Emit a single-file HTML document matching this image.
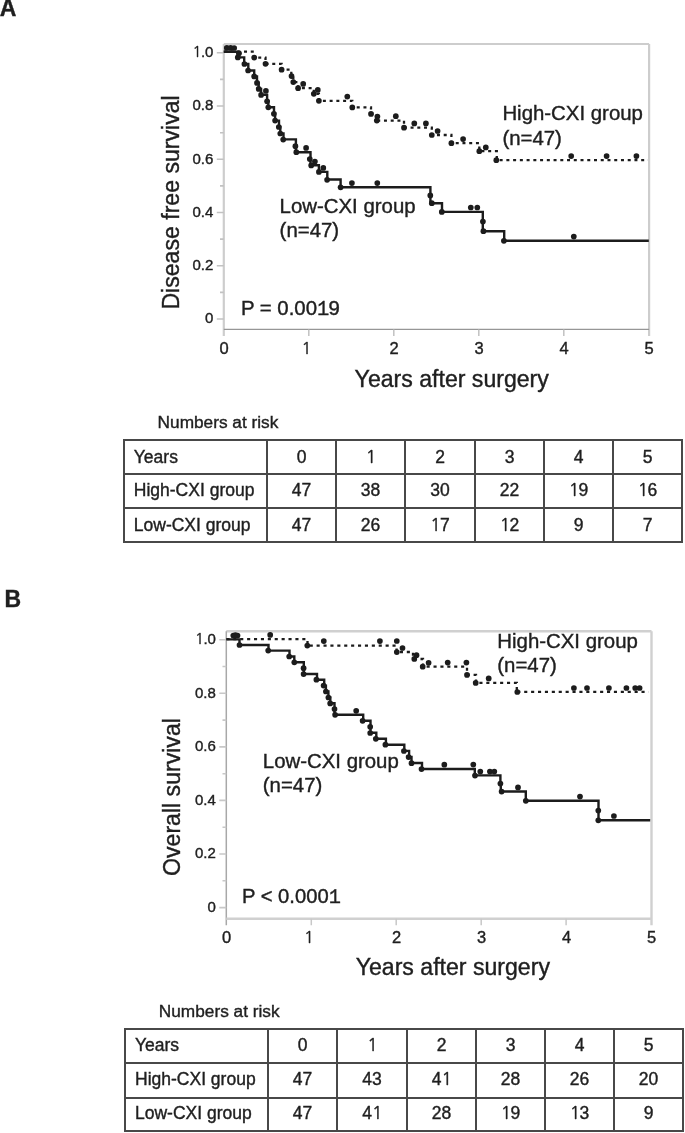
<!DOCTYPE html>
<html><head><meta charset="utf-8"><title>Kaplan-Meier survival curves</title>
<style>
html,body{margin:0;padding:0;background:#fff;}
body{width:685px;height:1133px;overflow:hidden;position:relative;}
svg{position:absolute;left:0;top:0;filter:blur(0.45px);}
text{font-family:'Liberation Sans', Arial, Helvetica, sans-serif;fill:#1f1f1f;stroke:#1f1f1f;stroke-width:0.4px;}
.o{font-family:'WenQuanYi Zen Hei','Liberation Sans',sans-serif;letter-spacing:-0.044em;}
.n{font-family:'NanumGothic','Liberation Sans',sans-serif;letter-spacing:-0.05em;}
.tables{position:absolute;left:0;top:0;width:685px;height:1133px;filter:blur(0.45px);}
table.risk{position:absolute;border-collapse:collapse;table-layout:fixed;font-family:'Liberation Sans', Arial, Helvetica, sans-serif;font-size:17.5px;color:#1f1f1f;-webkit-text-stroke:0.4px #1f1f1f;}
table.risk td,table.risk th{border:2px solid #484848;padding:0;text-align:center;vertical-align:top;line-height:20px;white-space:nowrap;font-weight:normal;}
</style></head><body>
<svg width="685" height="1133" viewBox="0 0 685 1133">
<path d="M223.8 44.0H649.1" fill="none" stroke="#cdcdcd" stroke-width="2.2"/>
<path d="M649.1 44.0V336.0" fill="none" stroke="#cdcdcd" stroke-width="2.2"/>
<path d="M223.8 44.0V336.0" fill="none" stroke="#cdcdcd" stroke-width="2.2"/>
<path d="M223.8 329.4H649.1" fill="none" stroke="#969696" stroke-width="1.3"/>
<path d="M308.8 329.4V336.0M393.8 329.4V336.0M478.8 329.4V336.0M563.8 329.4V336.0" stroke="#c2c2c2" stroke-width="1.5"/>
<path d="M216.8 319.0H223.8M220.0 292.4H223.8M216.8 265.8H223.8M220.0 239.1H223.8M216.8 212.5H223.8M220.0 185.9H223.8M216.8 159.3H223.8M220.0 132.7H223.8M216.8 106.0H223.8M220.0 79.4H223.8M216.8 52.8H223.8" stroke="#c2c2c2" stroke-width="1.6"/>
<text x="213.4" y="323.4" text-anchor="end" font-size="15">0</text>
<text x="213.4" y="270.2" text-anchor="end" font-size="15">0.2</text>
<text x="213.4" y="216.9" text-anchor="end" font-size="15">0.4</text>
<text x="213.4" y="163.7" text-anchor="end" font-size="15">0.6</text>
<text x="213.4" y="110.4" text-anchor="end" font-size="15">0.8</text>
<text x="213.4" y="57.2" text-anchor="end" font-size="15"><tspan class="n">1</tspan>.0</text>
<text x="224.2" y="354.2" text-anchor="middle" font-size="16.5">0</text>
<text x="306.2" y="354.2" text-anchor="middle" font-size="16.5"><tspan class="n">1</tspan></text>
<text x="394.2" y="354.2" text-anchor="middle" font-size="16.5">2</text>
<text x="479.2" y="354.2" text-anchor="middle" font-size="16.5">3</text>
<text x="564.2" y="354.2" text-anchor="middle" font-size="16.5">4</text>
<text x="649.2" y="354.2" text-anchor="middle" font-size="16.5">5</text>
<path d="M226.3 631.3H651.5" fill="none" stroke="#d0d0d0" stroke-width="2.4"/>
<path d="M651.5 631.3V925.3" fill="none" stroke="#d0d0d0" stroke-width="2.4"/>
<path d="M226.3 631.3V925.3" fill="none" stroke="#a8a8a8" stroke-width="1.5"/>
<path d="M226.3 918.7H651.5" fill="none" stroke="#d0d0d0" stroke-width="2.4"/>
<path d="M311.3 918.7V925.3M396.2 918.7V925.3M481.2 918.7V925.3M566.1 918.7V925.3" stroke="#c8c8c8" stroke-width="1.5"/>
<path d="M219.3 907.6H226.3M222.5 880.8H226.3M219.3 854.0H226.3M222.5 827.2H226.3M219.3 800.4H226.3M222.5 773.7H226.3M219.3 746.9H226.3M222.5 720.1H226.3M219.3 693.3H226.3M222.5 666.5H226.3M219.3 639.7H226.3" stroke="#c8c8c8" stroke-width="1.6"/>
<text x="215.9" y="912.0" text-anchor="end" font-size="15">0</text>
<text x="215.9" y="858.4" text-anchor="end" font-size="15">0.2</text>
<text x="215.9" y="804.8" text-anchor="end" font-size="15">0.4</text>
<text x="215.9" y="751.3" text-anchor="end" font-size="15">0.6</text>
<text x="215.9" y="697.7" text-anchor="end" font-size="15">0.8</text>
<text x="215.9" y="644.1" text-anchor="end" font-size="15"><tspan class="n">1</tspan>.0</text>
<text x="226.7" y="942.8" text-anchor="middle" font-size="16.5">0</text>
<text x="308.7" y="942.8" text-anchor="middle" font-size="16.5"><tspan class="n">1</tspan></text>
<text x="396.6" y="942.8" text-anchor="middle" font-size="16.5">2</text>
<text x="481.6" y="942.8" text-anchor="middle" font-size="16.5">3</text>
<text x="566.5" y="942.8" text-anchor="middle" font-size="16.5">4</text>
<text x="651.5" y="942.8" text-anchor="middle" font-size="16.5">5</text>
<path d="M223.8 51.6H254.0V57.6H265.5V63.8H281.6V69.7H291.3V76.0H293.3V82.1H298.1V88.1H313.8V93.8H318.9V100.8H352.3V107.4H371.0V113.9H377.0V120.6H404.0V127.7H431.8V135.0H451.4V143.2H479.3V151.2H496.8V160.2H496.8" fill="none" stroke="#1c1c1c" stroke-width="2.3" stroke-dasharray="3.0 3.74"/><path d="M496.8 160.2H648.0" fill="none" stroke="#1c1c1c" stroke-width="2.3" stroke-dasharray="3.0 3.74" stroke-dashoffset="3.90"/>
<path d="M223.8 51.8H237.6V57.4H244.2V64.0H248.3V70.5H254.2V76.4H257.0V82.9H258.7V88.9H261.1V94.9H267.1V101.3H268.3V107.3H274.0V113.8H275.1V120.6H279.0V127.0H280.3V133.5H283.5V139.4H295.9V146.2H295.9V152.2H310.5V159.1H310.5V165.3H318.9V171.9H327.3V179.5H340.6V187.2H430.4V195.4H430.4V203.2H442.0V211.9H482.8V221.5H482.8V231.2H504.2V240.8H648.8" fill="none" stroke="#1c1c1c" stroke-width="2.4"/>
<g fill="#1c1c1c"><circle cx="237.8" cy="57.4" r="2.85"/><circle cx="244.4" cy="64.0" r="2.85"/><circle cx="248.1" cy="70.5" r="2.85"/><circle cx="254.2" cy="76.4" r="2.85"/><circle cx="257.0" cy="82.9" r="2.85"/><circle cx="258.7" cy="88.9" r="2.85"/><circle cx="261.1" cy="94.9" r="2.85"/><circle cx="267.1" cy="101.3" r="2.85"/><circle cx="268.3" cy="107.3" r="2.85"/><circle cx="273.9" cy="113.8" r="2.85"/><circle cx="275.1" cy="120.6" r="2.85"/><circle cx="278.8" cy="127.0" r="2.85"/><circle cx="280.3" cy="133.5" r="2.85"/><circle cx="283.2" cy="139.6" r="2.85"/><circle cx="295.4" cy="146.2" r="2.85"/><circle cx="296.3" cy="152.2" r="2.85"/><circle cx="309.8" cy="159.1" r="2.85"/><circle cx="311.2" cy="165.4" r="2.85"/><circle cx="318.9" cy="171.9" r="2.85"/><circle cx="327.1" cy="179.8" r="2.85"/><circle cx="340.6" cy="187.3" r="2.85"/><circle cx="430.3" cy="195.4" r="2.85"/><circle cx="431.8" cy="203.2" r="2.85"/><circle cx="441.8" cy="211.9" r="2.85"/><circle cx="482.9" cy="221.5" r="2.85"/><circle cx="483.4" cy="231.2" r="2.85"/><circle cx="503.9" cy="240.8" r="2.85"/><circle cx="226.8" cy="47.9" r="2.85"/><circle cx="230.6" cy="47.9" r="2.85"/><circle cx="234.2" cy="48.0" r="2.85"/><circle cx="239.0" cy="53.3" r="2.85"/><circle cx="265.9" cy="90.9" r="2.85"/><circle cx="306.1" cy="147.9" r="2.85"/><circle cx="314.9" cy="161.5" r="2.85"/><circle cx="323.3" cy="167.9" r="2.85"/><circle cx="351.9" cy="183.1" r="2.85"/><circle cx="377.3" cy="183.1" r="2.85"/><circle cx="470.8" cy="207.5" r="2.85"/><circle cx="477.3" cy="207.5" r="2.85"/><circle cx="573.8" cy="236.6" r="2.85"/><circle cx="254.2" cy="57.6" r="2.85"/><circle cx="265.5" cy="63.8" r="2.85"/><circle cx="281.6" cy="69.7" r="2.85"/><circle cx="291.5" cy="76.1" r="2.85"/><circle cx="293.3" cy="82.1" r="2.85"/><circle cx="298.1" cy="88.2" r="2.85"/><circle cx="313.8" cy="93.8" r="2.85"/><circle cx="318.9" cy="100.8" r="2.85"/><circle cx="352.3" cy="107.4" r="2.85"/><circle cx="371.0" cy="113.9" r="2.85"/><circle cx="376.8" cy="120.6" r="2.85"/><circle cx="404.0" cy="127.7" r="2.85"/><circle cx="431.8" cy="135.0" r="2.85"/><circle cx="451.4" cy="143.2" r="2.85"/><circle cx="479.3" cy="151.2" r="2.85"/><circle cx="496.3" cy="160.2" r="2.85"/><circle cx="303.2" cy="83.9" r="2.85"/><circle cx="317.8" cy="89.9" r="2.85"/><circle cx="347.3" cy="96.6" r="2.85"/><circle cx="377.4" cy="116.6" r="2.85"/><circle cx="395.8" cy="116.2" r="2.85"/><circle cx="414.3" cy="123.4" r="2.85"/><circle cx="425.9" cy="123.4" r="2.85"/><circle cx="437.6" cy="131.0" r="2.85"/><circle cx="463.1" cy="139.1" r="2.85"/><circle cx="485.8" cy="147.4" r="2.85"/><circle cx="571.2" cy="156.1" r="2.85"/><circle cx="606.6" cy="156.1" r="2.85"/><circle cx="636.4" cy="156.1" r="2.85"/></g>
<path d="M226.4 639.2H307.5V645.6H396.6V652.0H413.0V659.0H423.0V666.7H467.0V674.9H476.0V682.9H516.8V691.9H516.8" fill="none" stroke="#1c1c1c" stroke-width="2.3" stroke-dasharray="3.1 3.8"/><path d="M516.8 691.9H648.5" fill="none" stroke="#1c1c1c" stroke-width="2.3" stroke-dasharray="3.1 3.8" stroke-dashoffset="6.40"/>
<path d="M226.4 639.4H239.5V645.0H268.5V650.6H289.5V656.5H294.3V662.3H303.8V668.1H303.8V674.0H317.0V679.7H324.2V685.6H325.9V691.5H328.4V697.4H330.3V703.3H334.5V709.0H334.5V714.7H363.2V720.8H370.5V726.8H370.5V732.8H376.3V738.7H385.9V744.7H404.3V750.9H409.1V757.0H411.5V763.0H422.0V769.0H474.8V775.4H500.4V783.6H500.8V791.5H525.8V800.7H598.5V810.6H598.5V820.3H650.2" fill="none" stroke="#1c1c1c" stroke-width="2.4"/>
<g fill="#1c1c1c"><circle cx="239.5" cy="645.0" r="2.85"/><circle cx="268.2" cy="650.6" r="2.85"/><circle cx="289.2" cy="656.5" r="2.85"/><circle cx="294.3" cy="662.3" r="2.85"/><circle cx="303.6" cy="668.2" r="2.85"/><circle cx="303.6" cy="674.1" r="2.85"/><circle cx="316.4" cy="679.7" r="2.85"/><circle cx="323.6" cy="685.6" r="2.85"/><circle cx="325.9" cy="691.5" r="2.85"/><circle cx="328.4" cy="697.5" r="2.85"/><circle cx="330.2" cy="703.4" r="2.85"/><circle cx="334.5" cy="709.0" r="2.85"/><circle cx="335.1" cy="714.8" r="2.85"/><circle cx="362.6" cy="720.8" r="2.85"/><circle cx="370.2" cy="726.8" r="2.85"/><circle cx="370.2" cy="733.0" r="2.85"/><circle cx="375.8" cy="738.8" r="2.85"/><circle cx="385.4" cy="744.7" r="2.85"/><circle cx="403.9" cy="751.0" r="2.85"/><circle cx="408.6" cy="757.1" r="2.85"/><circle cx="411.5" cy="763.2" r="2.85"/><circle cx="421.5" cy="769.1" r="2.85"/><circle cx="475.0" cy="775.6" r="2.85"/><circle cx="500.4" cy="783.6" r="2.85"/><circle cx="501.6" cy="791.6" r="2.85"/><circle cx="525.8" cy="800.8" r="2.85"/><circle cx="598.3" cy="810.6" r="2.85"/><circle cx="598.3" cy="820.3" r="2.85"/><circle cx="233.3" cy="635.5" r="2.85"/><circle cx="235.4" cy="635.2" r="2.85"/><circle cx="237.5" cy="635.6" r="2.85"/><circle cx="356.2" cy="710.8" r="2.85"/><circle cx="444.3" cy="764.7" r="2.85"/><circle cx="473.3" cy="764.6" r="2.85"/><circle cx="480.3" cy="771.6" r="2.85"/><circle cx="489.9" cy="771.6" r="2.85"/><circle cx="494.3" cy="771.6" r="2.85"/><circle cx="518.0" cy="787.4" r="2.85"/><circle cx="580.0" cy="796.6" r="2.85"/><circle cx="613.9" cy="816.0" r="2.85"/><circle cx="307.3" cy="645.6" r="2.85"/><circle cx="396.8" cy="652.1" r="2.85"/><circle cx="414.3" cy="658.9" r="2.85"/><circle cx="422.7" cy="666.7" r="2.85"/><circle cx="467.0" cy="674.9" r="2.85"/><circle cx="475.7" cy="682.9" r="2.85"/><circle cx="517.3" cy="692.0" r="2.85"/><circle cx="270.2" cy="634.9" r="2.85"/><circle cx="323.8" cy="641.1" r="2.85"/><circle cx="379.9" cy="641.1" r="2.85"/><circle cx="396.8" cy="641.0" r="2.85"/><circle cx="402.5" cy="648.0" r="2.85"/><circle cx="416.5" cy="655.2" r="2.85"/><circle cx="428.6" cy="662.8" r="2.85"/><circle cx="447.7" cy="662.6" r="2.85"/><circle cx="466.4" cy="662.6" r="2.85"/><circle cx="488.7" cy="678.4" r="2.85"/><circle cx="573.9" cy="688.0" r="2.85"/><circle cx="587.0" cy="688.0" r="2.85"/><circle cx="608.9" cy="688.0" r="2.85"/><circle cx="626.4" cy="688.0" r="2.85"/><circle cx="635.2" cy="688.0" r="2.85"/><circle cx="639.6" cy="688.0" r="2.85"/></g>
<text x="-0.2" y="16.2" font-size="23" font-weight="bold">A</text>
<text x="4.6" y="607.3" font-size="23" font-weight="bold">B</text>
<text x="502.4" y="120.4" font-size="20.4" >High-CXI group</text>
<text x="502.4" y="144.5" font-size="20.4" >(n=47)</text>
<text x="279.6" y="212.5" font-size="20.4" >Low-CXI group</text>
<text x="279.6" y="236.7" font-size="20.4" >(n=47)</text>
<text x="240.9" y="314.8" font-size="20.4" >P = 0.00<tspan class="o">1</tspan>9</text>
<text x="354.6" y="386.6" font-size="23.1" >Years after surgery</text>
<text transform="translate(179.0 202.45) rotate(-90)" text-anchor="middle" font-size="23.1">Disease free survival</text>
<text x="497.3" y="647.7" font-size="20.4" >High-CXI group</text>
<text x="497.3" y="671.7" font-size="20.4" >(n=47)</text>
<text x="262.8" y="767.9" font-size="20.4" >Low-CXI group</text>
<text x="262.8" y="792.1" font-size="20.4" >(n=47)</text>
<text x="242.0" y="903.3" font-size="20.2" >P &lt; 0.000<tspan class="o">1</tspan></text>
<text x="355.7" y="975.1" font-size="23.1" >Years after surgery</text>
<text transform="translate(179.6 797.05) rotate(-90)" text-anchor="middle" font-size="23.1">Overall survival</text>
<text x="157.6" y="427.5" font-size="17.25" >Numbers at risk</text>
<text x="158.8" y="1016.9" font-size="17.25" >Numbers at risk</text>
</svg>
<div class="tables">
<table class="risk" style="left:123px;top:439px;width:558px">
<colgroup><col style="width:143px"><col style="width:69px"><col style="width:69px"><col style="width:70px"><col style="width:69px"><col style="width:69px"><col style="width:69px"></colgroup>
<tr style="height:34px"><th scope="row" style="padding-top:5.5px;padding-left:8.8px;text-align:left">Years</th><td style="padding-top:5.5px">0</td><td style="padding-top:5.5px"><span class="n">1</span></td><td style="padding-top:5.5px">2</td><td style="padding-top:5.5px">3</td><td style="padding-top:5.5px">4</td><td style="padding-top:5.5px">5</td></tr>
<tr style="height:34px"><th scope="row" style="padding-top:5px;padding-left:8.8px;text-align:left">High-CXI group</th><td style="padding-top:5px">47</td><td style="padding-top:5px">38</td><td style="padding-top:5px">30</td><td style="padding-top:5px">22</td><td style="padding-top:5px"><span class="n">1</span>9</td><td style="padding-top:5px"><span class="n">1</span>6</td></tr>
<tr style="height:34px"><th scope="row" style="padding-top:5.5px;padding-left:8.8px;text-align:left">Low-CXI group</th><td style="padding-top:5.5px">47</td><td style="padding-top:5.5px">26</td><td style="padding-top:5.5px"><span class="n">1</span>7</td><td style="padding-top:5.5px"><span class="n">1</span>2</td><td style="padding-top:5.5px">9</td><td style="padding-top:5.5px">7</td></tr>
</table>
<table class="risk" style="left:124px;top:1028px;width:558px">
<colgroup><col style="width:143px"><col style="width:69px"><col style="width:70px"><col style="width:69px"><col style="width:69px"><col style="width:69px"><col style="width:69px"></colgroup>
<tr style="height:34px"><th scope="row" style="padding-top:5.2px;padding-left:9.0px;text-align:left">Years</th><td style="padding-top:5.2px">0</td><td style="padding-top:5.2px"><span class="n">1</span></td><td style="padding-top:5.2px">2</td><td style="padding-top:5.2px">3</td><td style="padding-top:5.2px">4</td><td style="padding-top:5.2px">5</td></tr>
<tr style="height:35px"><th scope="row" style="padding-top:5px;padding-left:9.0px;text-align:left">High-CXI group</th><td style="padding-top:5px">47</td><td style="padding-top:5px">43</td><td style="padding-top:5px">4<span class="n">1</span></td><td style="padding-top:5px">28</td><td style="padding-top:5px">26</td><td style="padding-top:5px">20</td></tr>
<tr style="height:33px"><th scope="row" style="padding-top:4.1px;padding-left:9.0px;text-align:left">Low-CXI group</th><td style="padding-top:4.1px">47</td><td style="padding-top:4.1px">4<span class="n">1</span></td><td style="padding-top:4.1px">28</td><td style="padding-top:4.1px"><span class="n">1</span>9</td><td style="padding-top:4.1px"><span class="n">1</span>3</td><td style="padding-top:4.1px">9</td></tr>
</table>
</div>
</body></html>
